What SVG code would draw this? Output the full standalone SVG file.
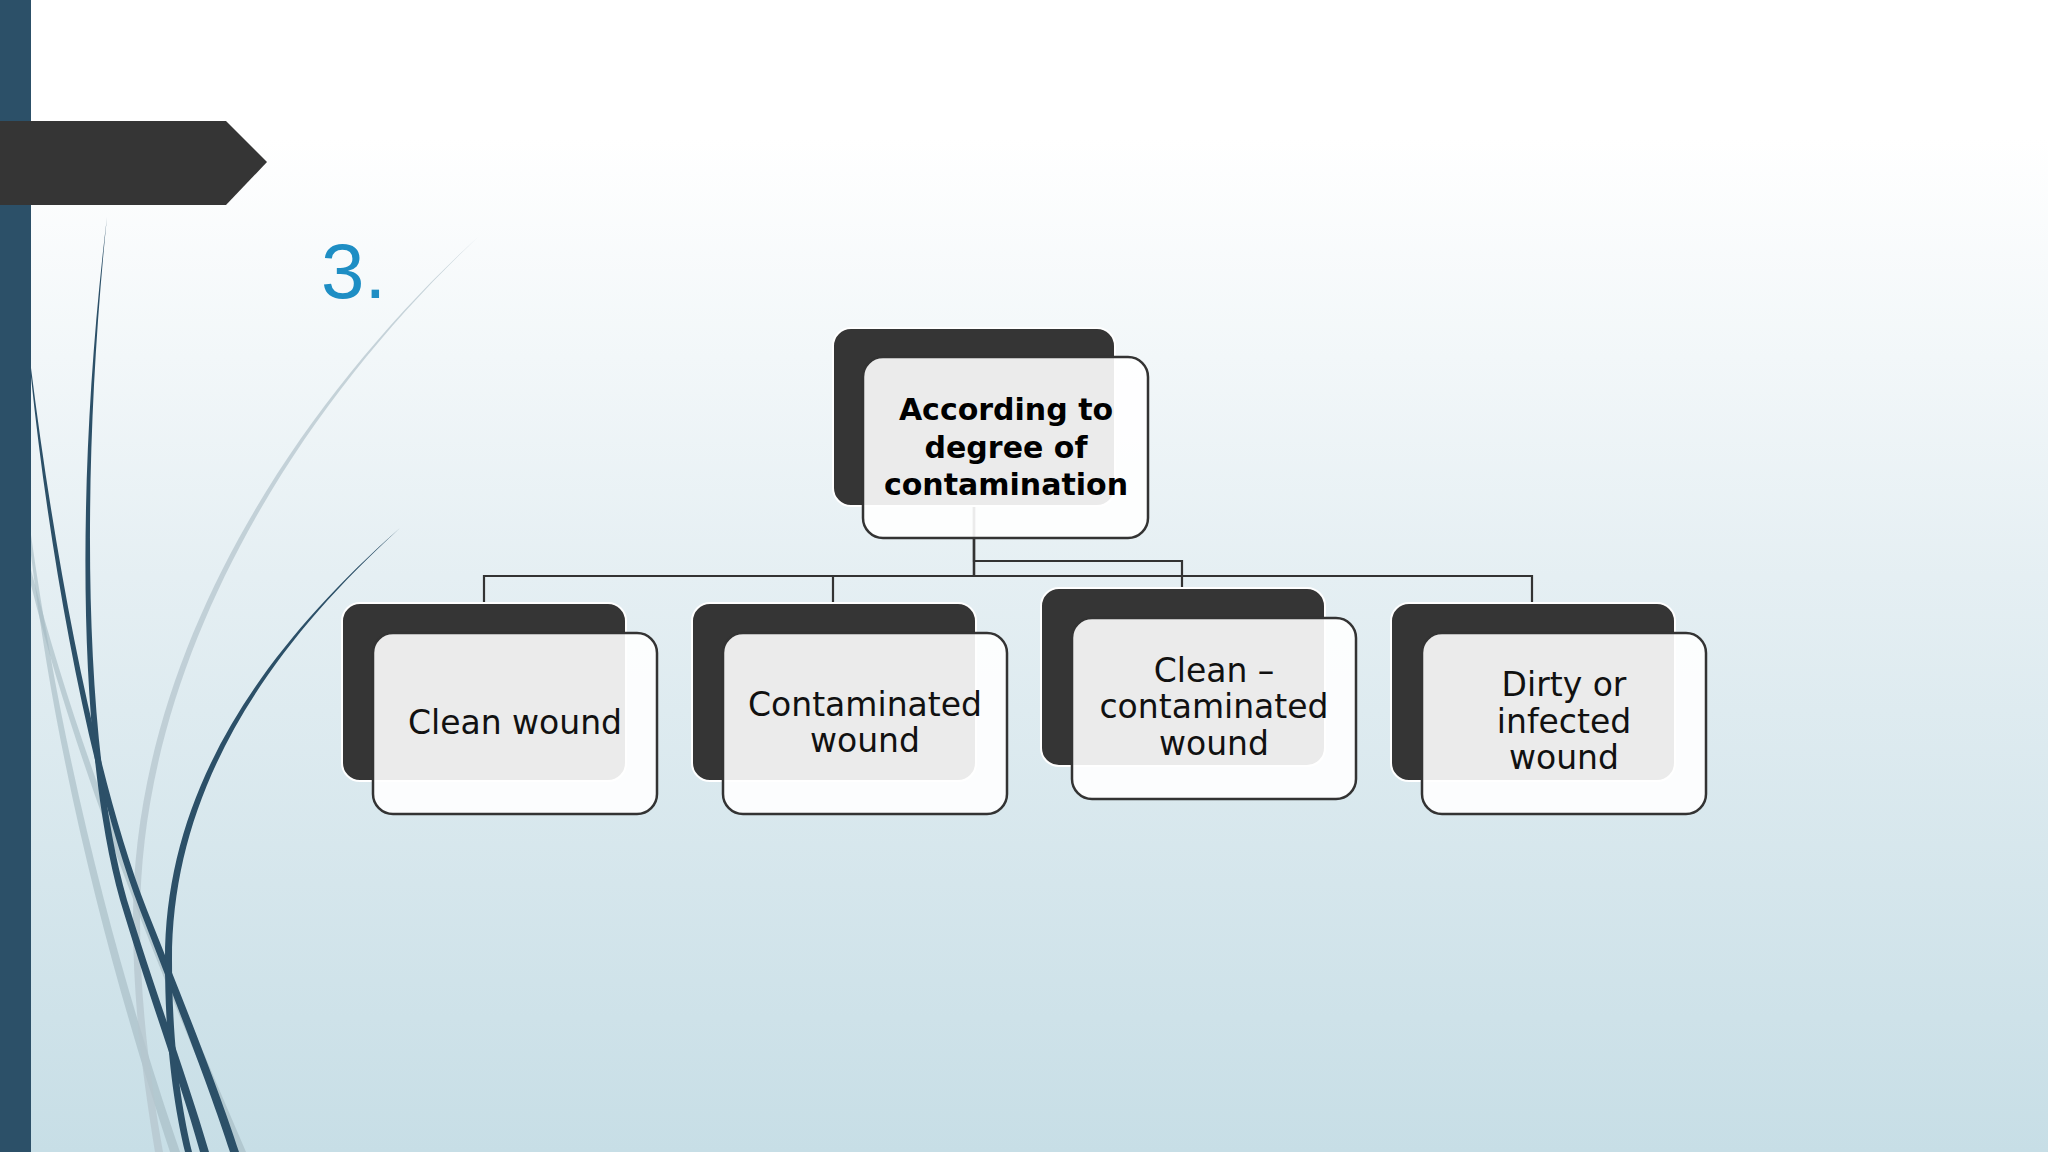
<svg xmlns="http://www.w3.org/2000/svg" width="2048" height="1152" viewBox="0 0 2048 1152">
  <defs>
    <linearGradient id="bg" x1="0" y1="0" x2="0" y2="1152" gradientUnits="userSpaceOnUse">
      <stop offset="0" stop-color="#ffffff"/>
      <stop offset="0.12" stop-color="#ffffff"/>
      <stop offset="0.5" stop-color="#e5eff3"/>
      <stop offset="1" stop-color="#c7dee6"/>
    </linearGradient>
    <style>
      .back { fill: #353535; stroke: #ffffff; stroke-width: 2; }
      .front { fill: #ffffff; fill-opacity: 0.9; stroke: #333333; stroke-width: 2.5; }
      .conn { fill: none; stroke: #333333; stroke-width: 2.2; }
      .lbl { font-family: "DejaVu Sans", "Liberation Sans", sans-serif; font-size: 33px; fill: #111111; text-anchor: middle; }
      .head { font-family: "DejaVu Sans", "Liberation Sans", sans-serif; font-size: 30px; font-weight: bold; fill: #000000; text-anchor: middle; }
      .dark { fill: #2c5068; }
      .gray { fill: #a3b9c2; fill-opacity: 0.6; }
    </style>
  </defs>

  <!-- background -->
  <rect x="0" y="0" width="2048" height="1152" fill="url(#bg)"/>

  <!-- decorative curves -->
  <g id="decor">
    <path class="gray" d="M31,585 C80,780 160,970 236,1152 L246,1152 C168,970 86,780 31,570 Z"/>
    <path class="gray" d="M31,555 C60,790 120,1000 170,1152 L180,1152 C128,1000 67,790 31,535 Z"/>
    <path d="M478,237 C300,400 133,650 133,920 C133,1010 145,1090 155,1152 L163,1152 C152,1090 140,1010 140,920 C140,650 305,400 478,237 Z" fill="#b5c6cd" fill-opacity="0.75"/>
    <path class="dark" d="M107,217 C75,480 78,750 120,900 C150,1000 180,1080 200,1152 L209,1152 C188,1080 158,1000 127,900 C84,750 80,480 107,217 Z"/>
    <path class="dark" d="M31,377 C50,560 90,780 140,910 C175,1000 210,1090 230,1152 L239,1152 C219,1090 183,1000 147,910 C96,780 55,560 31,368 Z"/>
    <path class="dark" d="M400,528 C250,660 165,800 165,960 C165,1050 175,1110 185,1152 L192,1152 C182,1110 172,1050 172,960 C172,800 255,660 400,528 Z"/>
  </g>

  <!-- left bar and banner -->
  <rect x="0" y="0" width="31" height="1152" fill="#2c5068"/>
  <path d="M0,121 L226,121 L267,162 L226,205 L0,205 Z" fill="#353535"/>

  <text x="321" y="298" font-family="Liberation Sans, Arial, sans-serif" font-size="78" fill="#1e8ec4">3.</text>

  <!-- connectors -->
  <g id="connectors">
    <path class="conn" d="M974,506 V576 H484 V603"/>
    <path class="conn" d="M974,506 V576 H833 V603"/>
    <path class="conn" d="M974,506 V561 H1182 V588"/>
    <path class="conn" d="M974,506 V576 H1532 V603"/>
  </g>

  <!-- nodes -->
  <g id="node-root">
    <rect class="back" x="833" y="328" width="282" height="178" rx="18"/>
    <rect class="front" x="863" y="357" width="285" height="181" rx="20"/>
    <text class="head" x="1006" y="420">According to</text>
    <text class="head" x="1006" y="458">degree of</text>
    <text class="head" x="1006" y="495">contamination</text>
  </g>

  <g id="node-clean">
    <rect class="back" x="342" y="603" width="284" height="178" rx="18"/>
    <rect class="front" x="373" y="633" width="284" height="181" rx="20"/>
    <text class="lbl" x="515" y="734">Clean wound</text>
  </g>

  <g id="node-contaminated">
    <rect class="back" x="692" y="603" width="284" height="178" rx="18"/>
    <rect class="front" x="723" y="633" width="284" height="181" rx="20"/>
    <text class="lbl" x="865" y="716">Contaminated</text>
    <text class="lbl" x="865" y="752">wound</text>
  </g>

  <g id="node-clean-contaminated">
    <rect class="back" x="1041" y="588" width="284" height="178" rx="18"/>
    <rect class="front" x="1072" y="618" width="284" height="181" rx="20"/>
    <text class="lbl" x="1214" y="682">Clean –</text>
    <text class="lbl" x="1214" y="718">contaminated</text>
    <text class="lbl" x="1214" y="755">wound</text>
  </g>

  <g id="node-dirty">
    <rect class="back" x="1391" y="603" width="284" height="178" rx="18"/>
    <rect class="front" x="1422" y="633" width="284" height="181" rx="20"/>
    <text class="lbl" x="1564" y="696">Dirty or</text>
    <text class="lbl" x="1564" y="733">infected</text>
    <text class="lbl" x="1564" y="769">wound</text>
  </g>
</svg>
